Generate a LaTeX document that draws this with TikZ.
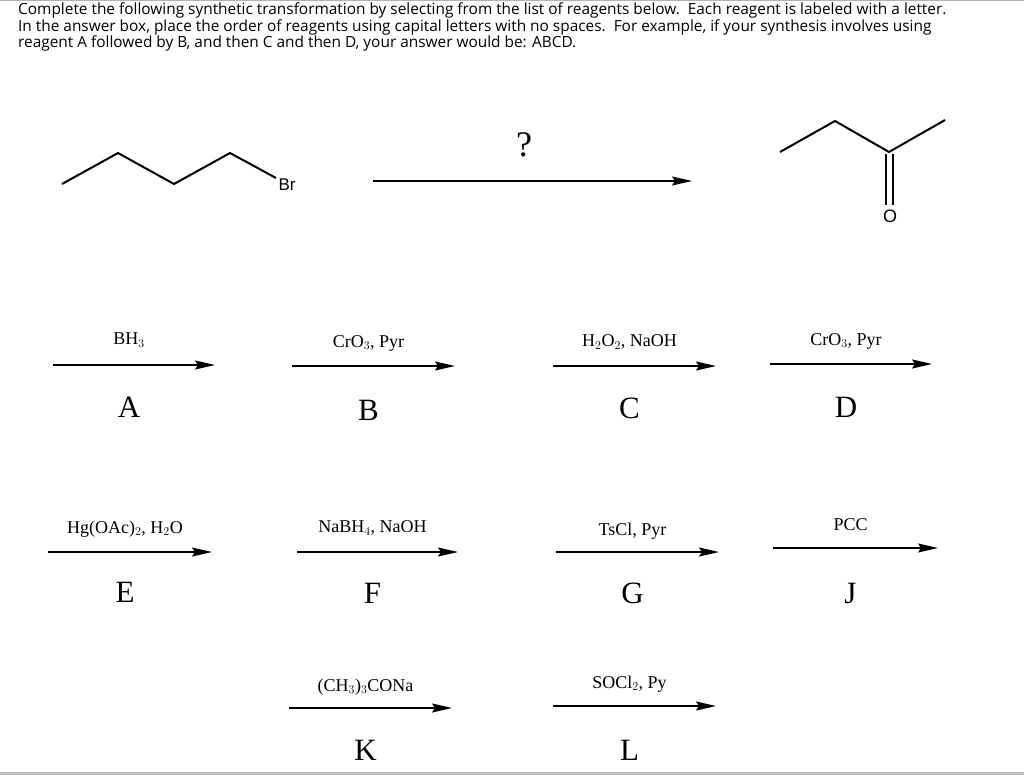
\documentclass[tikz,border=0pt]{standalone}
\usepackage{fontspec}
\setmainfont{Liberation Serif}
\newfontfamily\osans{Open Sans}
\newfontfamily\lsans{Liberation Sans}
\usetikzlibrary{arrows.meta}
\tikzset{rx/.style={-{Stealth[length=20pt,width=9pt,inset=3pt]},line width=1.6pt},
 lab/.style={font=\fontsize{18}{20}\selectfont},
 let/.style={font=\fontsize{31}{33}\selectfont},
 bond/.style={line width=2pt}}
\begin{document}
\begin{tikzpicture}[x=1pt,y=-1pt]
\useasboundingbox (0,0) rectangle (1024,776);
\fill[white] (0,0) rectangle (1024,776);
\draw[gray!60,line width=1.5pt] (0,0.7) -- (1024,0.7);
\draw[gray!50,line width=3pt] (0,773) -- (1024,773);
\node[anchor=north west,align=left,inner sep=0,font=\osans\fontsize{15.4}{16.5}\selectfont] (q) at (18,3) {Complete the following synthetic transformation by selecting from the list of reagents below.\ \ Each reagent is labeled with a letter.\\In the answer box, place the order of reagents using capital letters with no spaces.\ \ For example, if your synthesis involves using\\reagent A followed by B, and then C and then D, your answer would be: ABCD.};
% starting material
\draw[bond,line join=round] (62,184) -- (118,153) -- (174,184) -- (230,153) -- (276,178);
\node[font=\lsans\fontsize{17}{18}\selectfont] (br) at (287,185) {Br};
% main arrow
\coordinate (m1) at (373,181); \coordinate (m2) at (692,181);
\draw[rx] (m1) -- (m2);
\node[font=\fontsize{36}{38}\selectfont] (qm) at (524,145) {?};
% product
\draw[bond,line join=round] (780,152) -- (835,121) -- (889,152) -- (945,120);
\draw[bond] (886,154) -- (886,205); \draw[bond] (893,154) -- (893,205);
\node[font=\lsans\fontsize{18}{19}\selectfont] (o) at (890,216) {O};
% reagents
\foreach \xa/\xb/\ya/\reag/\yl/\L/\yL in {
 53/215/365/{BH$_3$}/340/A/407,
 292/455/366/{CrO$_3$, Pyr}/343/B/410,
 553/716/366/{H$_2$O$_2$, NaOH}/342/C/408,
 770/932/364/{CrO$_3$, Pyr}/341/D/407,
 48/212/552/{Hg(OAc)$_2$, H$_2$O}/529/E/592,
 297/458/552/{NaBH$_4$, NaOH}/528/F/593,
 556/719/552/{TsCl, Pyr}/531/G/593,
 773/938/548/{PCC}/525/J/593,
 289/452/708/{(CH$_3$)$_3$CONa}/687/K/750,
 553/716/706/{SOCl$_2$, Py}/684/L/750}{
 \draw[rx] (\xa,\ya) -- (\xb,\ya);
 \node[lab] at ({(\xa+\xb)/2-5},\yl) {\reag};
 \node[let] at ({(\xa+\xb)/2-5},\yL) {\L};
}
\end{tikzpicture}
\end{document}
